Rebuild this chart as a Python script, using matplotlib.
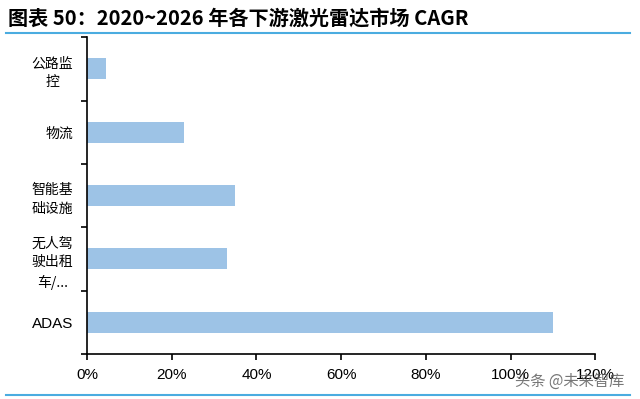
import matplotlib.pyplot as plt
from matplotlib.lines import Line2D

plt.rcParams['font.family'] = ['Noto Sans CJK SC', 'DejaVu Sans']

# 数据
categories = ['ADAS', '无人驾\n驶出租\n车/...', '智能基\n础设施', '物流', '公路监\n控']
cagr = [110, 33, 35, 23, 4.5]
xticks = [0, 20, 40, 60, 80, 100, 120]
xlabels = ['0%', '20%', '40%', '60%', '80%', '100%', '120%']

fig = plt.figure(figsize=(6.4, 3.99), dpi=100)
ax = fig.add_axes([0.136, 0.1128, 0.794, 0.794])

ypos = list(range(len(categories)))
ax.barh(ypos, cagr, height=0.33, color='#9DC3E6')

ax.set_xlim(0, 120)
ax.set_ylim(-0.5, len(categories) - 0.5)
ax.set_xticks(xticks)
ax.set_xticklabels(xlabels, fontfamily='Liberation Sans', fontsize=11)
ax.set_yticks(ypos)
ax.set_yticklabels(categories, fontsize=10, linespacing=1.45, multialignment='center')
ax.set_yticks([i - 0.5 for i in range(len(categories) + 1)], minor=True)
ax.tick_params(axis='y', which='major', length=0, pad=10)
ax.tick_params(axis='y', which='minor', length=4, width=1.2, direction='out')
ax.tick_params(axis='x', length=4, width=1.2, direction='out', pad=6)
ax.get_yticklabels()[0].set_fontfamily('Liberation Sans')
ax.get_yticklabels()[0].set_fontsize(11)

for s in ['top', 'right']:
    ax.spines[s].set_visible(False)
for s in ['left', 'bottom']:
    ax.spines[s].set_linewidth(1.2)

# 标题和分隔线
fig.text(0.012, 0.955, '图表 50：2020~2026 年各下游激光雷达市场 CAGR',
         fontsize=14.5, fontweight='bold', fontstyle='italic', va='center')
fig.add_artist(Line2D([0.01, 0.985], [0.917, 0.917], color='#4BACE0', lw=1.5))
fig.add_artist(Line2D([0.01, 0.985], [0.01, 0.01], color='#4BACE0', lw=1.5))

# 水印
fig.text(0.975, 0.045, '头条 @未来智库', fontsize=11, color='#555555',
         ha='right', va='center', alpha=0.8)

fig.savefig('out.png', dpi=100)
